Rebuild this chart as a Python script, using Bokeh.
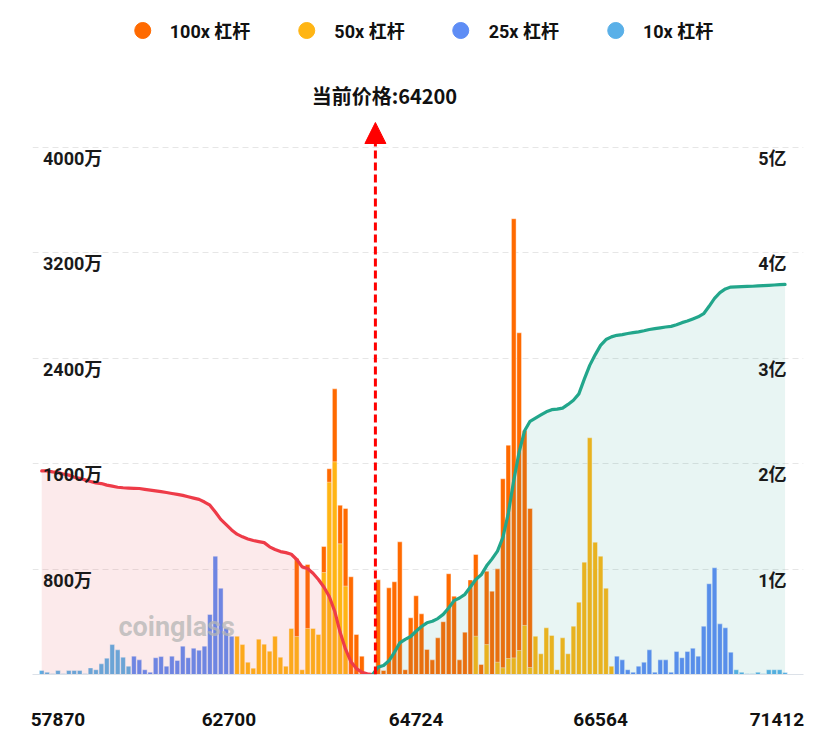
import math
from bokeh.plotting import figure
from bokeh.models import (ColumnDataSource, Range1d, FixedTicker, Grid, Legend, LegendItem,
                          Arrow, NormalHead)
from bokeh.core.properties import value
from bokeh.embed import file_html
from bokeh.resources import INLINE

# ---------------- data ----------------
n_bins = 138
bins = list(range(n_bins))

# 10x leverage (万)
lev10 = [30, 17, 5, 30, 5, 30, 30, 30, 5, 50, 36, 81, 124, 227, 187, 131, 63] + [0] * 111 + \
        [36, 17, 5, 5, 17, 5, 36, 36, 36, 15]
# 25x leverage (万)
lev25 = [0] * 17 + [139, 111, 36, 17, 127, 136, 63, 139, 106, 215, 127, 199, 184, 215, 455, 897, 654, 351, 290] + \
        [0] * 70 + [139, 111, 36, 17, 63, 93, 187, 17, 111, 111, 17, 174, 127, 174, 199, 139, 366, 688, 809, 384,
                    354, 169] + [0] * 10
# 50x leverage (万)
lev50 = [0] * 36 + [290, 227, 93, 48, 268, 230, 177, 290, 131, 63, 349, 288, 36, 349, 349, 303, 773, 1458, 1613, 991,
                    670] + [0] * 23 + \
        [290, 0, 227, 0, 93, 51, 121, 126, 182, 372, 53, 290, 157, 354, 296, 36, 278, 157, 366, 548, 852, 1795, 1003,
         897, 654, 63] + [0] * 32
# 100x leverage (万)
lev100 = [0] * 47 + [880, 0, 834, 0, 0, 971, 1560, 2166, 1284, 1259, 741, 303, 139, 0, 0,
                     718, 30, 657, 703, 1006, 36, 430, 597, 460, 190, 111, 278, 400, 764, 594, 111, 321, 717,
                     910, 76, 783, 632, 801, 1484, 1739, 3456, 2591, 1850, 1259] + [0] * 47

# cumulative liquidation (亿)
long_cum = [1.93, 1.93, 1.92, 1.915, 1.90, 1.89, 1.87, 1.86, 1.845, 1.83, 1.815, 1.81, 1.795, 1.785, 1.775, 1.77,
            1.767, 1.765, 1.763, 1.755, 1.748, 1.74, 1.733, 1.725, 1.716, 1.708, 1.698, 1.685, 1.672, 1.66, 1.635,
            1.605, 1.54, 1.47, 1.42, 1.37, 1.33, 1.305, 1.285, 1.27, 1.26, 1.25, 1.21, 1.185, 1.165, 1.155, 1.14,
            1.09, 1.02, 1.005, 0.96, 0.90, 0.83, 0.74, 0.60, 0.40, 0.24, 0.12, 0.056, 0.022, 0.006, 0.0]
short_cum = [0.0, 0.07, 0.085, 0.13, 0.21, 0.30, 0.333, 0.36, 0.41, 0.455, 0.49, 0.505, 0.53, 0.57, 0.63, 0.70,
             0.725, 0.76, 0.83, 0.90, 0.945, 1.03, 1.096, 1.17, 1.30, 1.53, 1.84, 2.11, 2.31, 2.40, 2.43, 2.46,
             2.49, 2.51, 2.515, 2.525, 2.56, 2.60, 2.66, 2.80, 2.93, 3.03, 3.12, 3.175, 3.20, 3.215, 3.222, 3.232,
             3.24, 3.248, 3.258, 3.27, 3.278, 3.286, 3.294, 3.30, 3.315, 3.335, 3.35, 3.37, 3.39, 3.42, 3.49, 3.565,
             3.62, 3.655, 3.672, 3.675, 3.677, 3.678, 3.68, 3.683, 3.686, 3.689, 3.692, 3.695, 3.697]
long_bins = bins[:len(long_cum)]
short_bins = bins[n_bins - len(short_cum):]

series_names = ["100x 杠杆", "50x 杠杆", "25x 杠杆", "10x 杠杆"]
colors = ["#FF6A00", "#FFB514", "#5E8DF5", "#5AB0E8"]

x_tick_pos = [3, 34.5, 69, 103, 135.5]
x_tick_labels = ["57870", "62700", "64724", "66564", "71412"]
left_ticks = [800, 1600, 2400, 3200, 4000]
left_labels = ["800万", "1600万", "2400万", "3200万", "4000万"]
right_ticks = [1, 2, 3, 4, 5]
right_labels = ["1亿", "2亿", "3亿", "4亿", "5亿"]
current_price = "64200"
price_pos = len(long_cum) - 0.5
wan_per_yi = 800.0  # 1亿 gridline aligned with 800万

# ---------------- layout helpers (canvas pixels -> data) ----------------
PITCH = 5.426
X0_PX = 41.2
FRAME_L, FRAME_R, FRAME_T, FRAME_B = 32, 803, 10, 674
PX_PER_WAN = 105.5 / 800.0


def px(cx):
    return (cx - X0_PX) / PITCH


def py(cy):
    return (FRAME_B - cy) / PX_PER_WAN


W, H = 812, 738
x_start, x_end = px(FRAME_L), px(FRAME_R)
y_end = py(FRAME_T)

p = figure(width=W, height=H, output_backend="svg", toolbar_location=None,
           x_range=Range1d(x_start, x_end), y_range=Range1d(0, y_end),
           y_axis_location=None, min_border_left=FRAME_L, min_border_right=W - FRAME_R,
           min_border_top=FRAME_T, min_border_bottom=H - FRAME_B)
p.extra_y_ranges = {"yi": Range1d(0, y_end / wan_per_yi)}
p.outline_line_color = None
p.background_fill_color = "white"
p.border_fill_color = "white"
p.xgrid.visible = False
p.ygrid.visible = False

grid = Grid(dimension=1, ticker=FixedTicker(ticks=left_ticks), grid_line_color="#E6E6E6",
            grid_line_dash="6 4", grid_line_width=1)
p.add_layout(grid, "center")

src = ColumnDataSource(dict(x=bins, l100=lev100, l50=lev50, l25=lev25, l10=lev10))
for col, color in zip(["l100", "l50", "l25", "l10"], colors):
    p.vbar(x="x", top=col, bottom=0, width=0.86, source=src, fill_color=color,
           line_color="white", line_width=0.6, line_alpha=0.7)

# cumulative areas (drawn over the bars, as in the original)
p.varea(x=long_bins, y1=[0] * len(long_bins), y2=long_cum, y_range_name="yi",
        fill_color="#E65058", fill_alpha=0.12)
p.varea(x=short_bins, y1=[0] * len(short_bins), y2=short_cum, y_range_name="yi",
        fill_color="#199B87", fill_alpha=0.1)
p.line(x=long_bins, y=long_cum, y_range_name="yi", line_color="#EE3B48", line_width=3.2,
       line_join="round", line_cap="round")
p.line(x=short_bins, y=short_cum, y_range_name="yi", line_color="#22A68B", line_width=3.2,
       line_join="round", line_cap="round")

# axis tick labels drawn inside the plot area
lab_font = value("Roboto, Noto Sans CJK SC")
p.text(x=[x_start] * len(left_ticks), y=left_ticks, text=left_labels, text_font=lab_font,
       text_font_size="18px", text_font_style="bold", text_color="#1A1A1A", text_align="left",
       text_baseline="middle", x_offset=10.5, y_offset=11)
p.text(x=[x_end] * len(right_ticks), y=[v * wan_per_yi for v in right_ticks], text=right_labels,
       text_font=lab_font, text_font_size="18px", text_font_style="bold", text_color="#1A1A1A",
       text_align="right", text_baseline="middle", x_offset=-17, y_offset=11)

# watermark
p.text(x=[px(118)], y=[py(626)], text=["coinglass"], text_font=value("Roboto"), text_font_size="27px",
       text_font_style="bold", text_color="#B5B5B5", text_alpha=0.75, text_align="left",
       text_baseline="middle")

# current price marker
p.add_layout(Arrow(end=NormalHead(size=21, fill_color="#FF0000", line_color="#FF0000"),
                   x_start=price_pos, y_start=0, x_end=price_pos, y_end=py(122),
                   line_color="#FF0000", line_width=3, line_dash="8 4"))
p.text(x=[price_pos], y=[py(95)], text=["当前价格:" + current_price], text_font=value("Noto Sans CJK SC"),
       text_font_size="20px", text_font_style="bold", text_color="#111111", text_align="center",
       text_baseline="middle", x_offset=9)

# x axis
xa = p.xaxis[0]
xa.ticker = FixedTicker(ticks=x_tick_pos)
xa.major_label_overrides = {k: v for k, v in zip(x_tick_pos, x_tick_labels)}
xa.axis_line_color = "#DCE1E8"
xa.axis_line_width = 1
xa.major_tick_line_color = None
xa.minor_tick_line_color = None
xa.major_label_standoff = 32
xa.major_label_text_font = "Roboto"
xa.major_label_text_font_size = "19px"
xa.major_label_text_font_style = "bold"
xa.major_label_text_color = "#111111"

# legend (circle markers)
items = []
for name, color in zip(series_names, colors):
    r = p.scatter(x=[float("nan")], y=[float("nan")], marker="circle", size=16,
                  fill_color=color, line_color=color)
    items.append(LegendItem(label=name, renderers=[r]))
legend = Legend(items=items, orientation="horizontal", location="top_center", glyph_width=40,
                glyph_height=40, label_standoff=8, spacing=36, padding=0, margin=0,
                border_line_alpha=0, background_fill_alpha=0, label_text_font_size="18px",
                label_text_font_style="bold", label_text_font="Roboto, Noto Sans CJK SC",
                label_text_color="#111111")
p.add_layout(legend, "center")

open("out.html", "w").write(file_html(p, INLINE))
